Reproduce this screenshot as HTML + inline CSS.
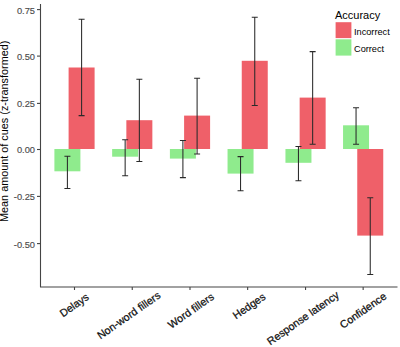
<!DOCTYPE html>
<html><head><meta charset="utf-8"><style>
html,body{margin:0;padding:0;background:#fff;}
svg{display:block;font-family:"Liberation Sans", sans-serif;}
</style></head><body>
<svg width="400" height="347" viewBox="0 0 400 347">
<rect width="400" height="347" fill="#fff"/>
<rect x="54.40" y="149.00" width="26.00" height="22.30" fill="#8FEB8D"/>
<rect x="68.60" y="67.50" width="26.00" height="81.50" fill="#EF6069"/>
<rect x="112.15" y="149.00" width="26.00" height="7.70" fill="#8FEB8D"/>
<rect x="126.35" y="120.20" width="26.00" height="28.80" fill="#EF6069"/>
<rect x="169.90" y="149.00" width="26.00" height="9.60" fill="#8FEB8D"/>
<rect x="184.10" y="115.60" width="26.00" height="33.40" fill="#EF6069"/>
<rect x="227.55" y="149.00" width="26.00" height="24.60" fill="#8FEB8D"/>
<rect x="241.75" y="60.80" width="26.00" height="88.20" fill="#EF6069"/>
<rect x="285.45" y="149.00" width="26.00" height="13.80" fill="#8FEB8D"/>
<rect x="299.65" y="97.60" width="26.00" height="51.40" fill="#EF6069"/>
<rect x="343.05" y="125.30" width="26.00" height="23.70" fill="#8FEB8D"/>
<rect x="357.25" y="149.00" width="26.00" height="86.60" fill="#EF6069"/>
<path d="M67.40 156.30V188.50M64.40 156.30H70.40M64.40 188.50H70.40" stroke="#2a2a2a" stroke-width="1.05" fill="none"/>
<path d="M81.60 19.20V115.60M78.60 19.20H84.60M78.60 115.60H84.60" stroke="#2a2a2a" stroke-width="1.05" fill="none"/>
<path d="M125.15 139.70V175.70M122.15 139.70H128.15M122.15 175.70H128.15" stroke="#2a2a2a" stroke-width="1.05" fill="none"/>
<path d="M139.35 79.20V161.50M136.35 79.20H142.35M136.35 161.50H142.35" stroke="#2a2a2a" stroke-width="1.05" fill="none"/>
<path d="M182.90 140.50V177.60M179.90 140.50H185.90M179.90 177.60H185.90" stroke="#2a2a2a" stroke-width="1.05" fill="none"/>
<path d="M197.10 78.20V154.00M194.10 78.20H200.10M194.10 154.00H200.10" stroke="#2a2a2a" stroke-width="1.05" fill="none"/>
<path d="M240.55 156.60V190.70M237.55 156.60H243.55M237.55 190.70H243.55" stroke="#2a2a2a" stroke-width="1.05" fill="none"/>
<path d="M254.75 17.20V105.40M251.75 17.20H257.75M251.75 105.40H257.75" stroke="#2a2a2a" stroke-width="1.05" fill="none"/>
<path d="M298.45 146.50V180.80M295.45 146.50H301.45M295.45 180.80H301.45" stroke="#2a2a2a" stroke-width="1.05" fill="none"/>
<path d="M312.65 51.60V144.30M309.65 51.60H315.65M309.65 144.30H315.65" stroke="#2a2a2a" stroke-width="1.05" fill="none"/>
<path d="M356.05 107.70V144.20M353.05 107.70H359.05M353.05 144.20H359.05" stroke="#2a2a2a" stroke-width="1.05" fill="none"/>
<path d="M370.25 197.80V274.40M367.25 197.80H373.25M367.25 274.40H373.25" stroke="#2a2a2a" stroke-width="1.05" fill="none"/>
<path d="M40.5 4V287H397.5" stroke="#444" stroke-width="1.1" fill="none"/>
<path d="M37 9.60H40.5" stroke="#444" stroke-width="1.1"/>
<text x="35" y="13.50" font-size="9.3" fill="#4d4d4d" stroke="#4d4d4d" stroke-width="0.15" text-anchor="end">0.75</text>
<path d="M37 56.10H40.5" stroke="#444" stroke-width="1.1"/>
<text x="35" y="60.00" font-size="9.3" fill="#4d4d4d" stroke="#4d4d4d" stroke-width="0.15" text-anchor="end">0.50</text>
<path d="M37 103.40H40.5" stroke="#444" stroke-width="1.1"/>
<text x="35" y="107.30" font-size="9.3" fill="#4d4d4d" stroke="#4d4d4d" stroke-width="0.15" text-anchor="end">0.25</text>
<path d="M37 149.50H40.5" stroke="#444" stroke-width="1.1"/>
<text x="35" y="153.40" font-size="9.3" fill="#4d4d4d" stroke="#4d4d4d" stroke-width="0.15" text-anchor="end">0.00</text>
<path d="M37 196.40H40.5" stroke="#444" stroke-width="1.1"/>
<text x="35" y="200.30" font-size="9.3" fill="#4d4d4d" stroke="#4d4d4d" stroke-width="0.15" text-anchor="end">-0.25</text>
<path d="M37 243.60H40.5" stroke="#444" stroke-width="1.1"/>
<text x="35" y="247.50" font-size="9.3" fill="#4d4d4d" stroke="#4d4d4d" stroke-width="0.15" text-anchor="end">-0.50</text>
<path d="M74.50 287V290" stroke="#444" stroke-width="1.1"/>
<text class="xl" x="74.20" y="308.80" font-size="10.7" fill="#111" stroke="#111" stroke-width="0.25" text-anchor="middle" transform="rotate(-35 74.20 305.20)">Delays</text>
<path d="M132.25 287V290" stroke="#444" stroke-width="1.1"/>
<text class="xl" x="128.85" y="318.96" font-size="10.7" fill="#111" stroke="#111" stroke-width="0.25" text-anchor="middle" transform="rotate(-35 128.85 315.36)">Non-word fillers</text>
<path d="M190.00 287V290" stroke="#444" stroke-width="1.1"/>
<text class="xl" x="191.00" y="314.27" font-size="10.7" fill="#111" stroke="#111" stroke-width="0.25" text-anchor="middle" transform="rotate(-35 191.00 310.67)">Word fillers</text>
<path d="M247.65 287V290" stroke="#444" stroke-width="1.1"/>
<text class="xl" x="249.15" y="309.61" font-size="10.7" fill="#111" stroke="#111" stroke-width="0.25" text-anchor="middle" transform="rotate(-35 249.15 306.01)">Hedges</text>
<path d="M305.55 287V290" stroke="#444" stroke-width="1.1"/>
<text class="xl" x="303.05" y="321.73" font-size="10.7" fill="#111" stroke="#111" stroke-width="0.25" text-anchor="middle" transform="rotate(-35 303.05 318.13)">Response latency</text>
<path d="M363.15 287V290" stroke="#444" stroke-width="1.1"/>
<text class="xl" x="363.15" y="314.09" font-size="10.7" fill="#111" stroke="#111" stroke-width="0.25" text-anchor="middle" transform="rotate(-35 363.15 310.49)">Confidence</text>
<text x="0" y="0" font-size="10.85" fill="#000" text-anchor="middle" transform="translate(7.8,131.3) rotate(-90)">Mean amount of cues (z-transformed)</text>
<text x="335" y="18.8" font-size="11" fill="#000">Accuracy</text>
<rect x="335.6" y="22.2" width="15.8" height="15.9" fill="#EF6069"/>
<rect x="335.6" y="39.3" width="15.8" height="16.3" fill="#8FEB8D"/>
<text x="354" y="35" font-size="9.2" fill="#000">Incorrect</text>
<text x="354" y="52.1" font-size="9.2" fill="#000">Correct</text>
</svg>
</body></html>
